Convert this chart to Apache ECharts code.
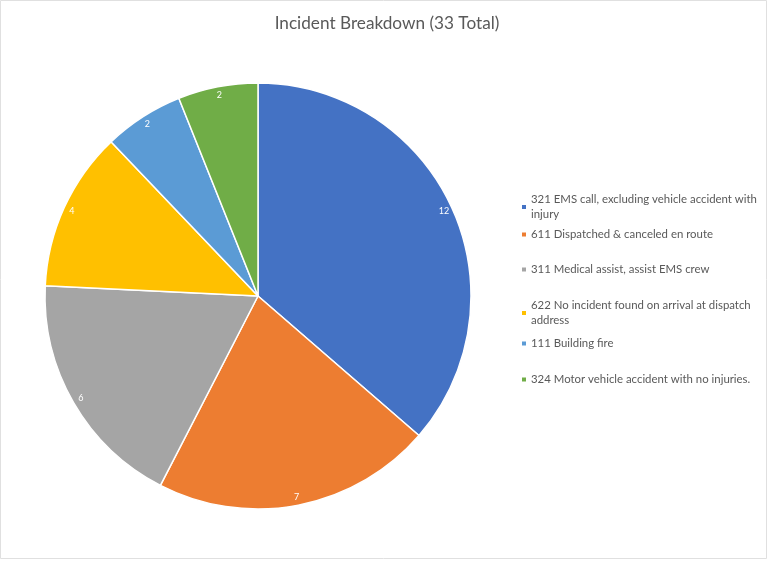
<!DOCTYPE html>
<html>
<head>
<meta charset="utf-8">
<script src="https://cdn.jsdelivr.net/npm/echarts@6/dist/echarts.min.js"></script>
<style>
  html, body { margin: 0; padding: 0; background: #fff; }
  #chart { width: 768px; height: 561px; }
</style>
</head>
<body>
<div id="chart"></div>
<script>
// chart data
const categories = [
  "321 EMS call, excluding vehicle accident with injury",
  "611 Dispatched & canceled en route",
  "311 Medical assist, assist EMS crew",
  "622 No incident found on arrival at dispatch address",
  "111 Building fire",
  "324 Motor vehicle accident with no injuries."
];
// how the legend text wraps
const legendLabels = [
  "321 EMS call, excluding vehicle accident with\ninjury",
  "611 Dispatched & canceled en route",
  "311 Medical assist, assist EMS crew",
  "622 No incident found on arrival at dispatch\naddress",
  "111 Building fire",
  "324 Motor vehicle accident with no injuries."
];
const values = [12, 7, 6, 4, 2, 2];
const colors = ["#4472C4", "#ED7D31", "#A5A5A5", "#FFC000", "#5B9BD5", "#70AD47"];
const titleText = "Incident Breakdown (33 Total)";

const FONT = "Lato, 'Open Sans', sans-serif";
const legendTops = [192, 227, 262, 298, 336, 372];
const LH = 15;

const chart = echarts.init(document.getElementById("chart"));

const pieData = categories.map((name, i) => ({
  name,
  value: values[i],
  itemStyle: { color: colors[i] }
}));

// one legend per entry so spacing matches and wrapped items keep marker on first line
const legends = categories.map((name, i) => {
  const wrapped = legendLabels[i].indexOf("\n") >= 0;
  return {
    data: [name],
    left: 520,
    top: wrapped ? legendTops[i] - LH / 2 : legendTops[i],
    orient: "vertical",
    icon: "rect",
    itemWidth: 6,
    itemHeight: 6,
    itemGap: 0,
    padding: 0,
    selectedMode: false,
    formatter: () => legendLabels[i],
    textStyle: {
      fontFamily: FONT,
      fontSize: 11.4,
      color: "#595959",
      lineHeight: LH,
      padding: wrapped ? [LH, 0, 0, -1] : [0, 0, 0, -1]
    }
  };
});

const option = {
  backgroundColor: "#fff",
  animation: false,
  title: {
    text: titleText,
    left: 382,
    textAlign: "center",
    top: 10,
    textStyle: {
      fontFamily: FONT,
      fontSize: 17.2,
      fontWeight: "normal",
      color: "#595959"
    }
  },
  legend: legends,
  graphic: [{
    type: "rect",
    shape: { x: 0.5, y: 0.5, width: 766, height: 558 },
    style: { fill: "none", stroke: "#e0e0e0", lineWidth: 1 },
    silent: true
  }],
  series: [
    {
      type: "pie",
      center: [258, 296],
      radius: [0, 213],
      startAngle: 90,
      clockwise: true,
      label: { show: false },
      labelLine: { show: false },
      emphasis: { disabled: true },
      itemStyle: { borderColor: "#fff", borderWidth: 1.5 },
      data: pieData
    },
    {
      // transparent ring only used to place value labels near the rim
      type: "pie",
      center: [258, 296],
      radius: [190, 213],
      startAngle: 90,
      clockwise: true,
      silent: true,
      legendHoverLink: false,
      emphasis: { disabled: true },
      itemStyle: { color: "rgba(0,0,0,0)" },
      label: {
        show: true,
        position: "inside",
        formatter: "{c}",
        fontFamily: FONT,
        fontSize: 9,
        color: "#fff"
      },
      labelLine: { show: false },
      data: categories.map((name, i) => ({ name: name + " ", value: values[i] }))
    }
  ]
};

chart.setOption(option);
</script>
</body>
</html>
